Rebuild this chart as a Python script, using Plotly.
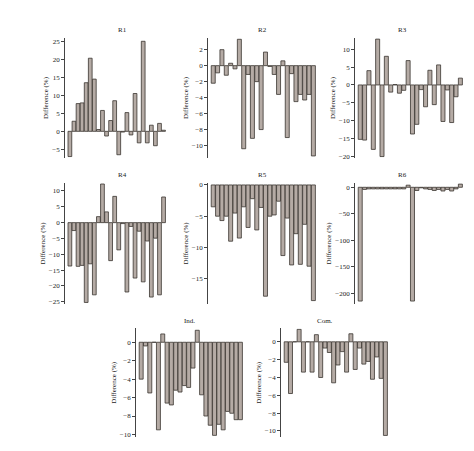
import plotly.graph_objects as go

names = ["R1", "R2", "R3", "R4", "R5", "R6", "Ind.", "Com."]
r1 = [-7, 2.8, 7.7, 7.9, 13.5, 20.3, 14.5, 0.5, 5.8, -1.3, 3, 8.5, -6.5, -0.2, 5.2, -1, 10.5, -3.2, 25, -3.2, 1.7, -4, 2.2, 0.3]
r2 = [-2.2, -0.9, 2, -1.2, 0.3, -0.4, 3.3, -10.4, -1.1, -9.1, -2, -8, 1.7, -0.1, -1.1, -3.6, 0.6, -9, -1, -4.5, -3.6, -4.3, -3.6, -11.3]
r3 = [-15.2, -15.4, 4, -18, 12.8, -20, 8, -2, 0.1, -2.3, -1.5, 6.8, -13.7, -11, -1.3, -6.1, 4.1, -5.5, 5.6, -10.2, -1.4, -10.5, -3.3, 1.9]
r4 = [-13.7, -2.5, -13.8, -13.5, -25.2, -13, -22.8, 1.9, 12.2, 3.4, -12, 8.3, -8.6, -0.3, -21.9, -1.2, -17.5, -2.7, -18.7, -5.8, -23.5, -4.9, -22.8, 8.1]
r5 = [-3.5, -5, -5.7, -5, -9, -4.5, -8.5, -3.5, -6.8, -2.2, -7.2, -3.6, -17.8, -5, -4.8, -2.6, -11.3, -5.3, -12.8, -7.8, -12.7, -6.3, -13, -18.5]
r6 = [-215, -4, -3, -3, -3, -3, -3, -3, -3, -3, -3, 4, -215, -6, -1, -3, -4, -6, -4, -7, -4, -7, -3, 6]
ind = [-4, -0.4, -5.5, 0, -9.5, 0.9, -6.6, -6.8, -5.2, -5.4, -4.7, -4.9, -2.8, 1.3, -5.7, -8, -9, -10.1, -8.9, -9.5, -7.5, -7.7, -8.4, -8.4]
com = [-2.3, -5.8, 0, 1.4, -3.4, 0, -3.4, 0.8, -4, -0.7, -1.2, -4.6, -2.6, -1.1, -3.4, 0.9, -3.1, -0.7, -2.5, -2.2, -4.2, -1.7, -4.1, -10.5]
series = [r1, r2, r3, r4, r5, r6, ind, com]
yranges = [[-7.5, 26], [-11.6, 3.5], [-20.5, 13.2], [-25.6, 12.5], [-19, 0.3], [-220, 8], [-10.3, 1.5], [-10.7, 1.5]]
dticks = [5, 2, 5, 5, 5, 50, 2, 2]

W, H = 474, 451
def px(a, b): return [a / W, b / W]
def py(top, bot): return [1 - bot / H, 1 - top / H]
xd = [px(57, 158), px(200, 308), px(347, 455), px(57, 158), px(200, 308), px(347, 455), px(128, 235), px(273, 380)]
yd = [py(28, 150)] * 3 + [py(175, 297)] * 3 + [py(322, 432)] * 2

fig = go.Figure()
font = dict(family="Liberation Serif", size=7, color="#222")
for i, s in enumerate(series):
    n = "" if i == 0 else str(i + 1)
    fig.add_trace(go.Bar(x=list(range(len(s))), y=s, xaxis="x" + n, yaxis="y" + n,
                         marker=dict(color="#b5aba5", line=dict(color="#3a3530", width=0.8)),
                         width=0.92, showlegend=False))
    fig.layout["xaxis" + n] = dict(domain=xd[i], range=[-1.2, 23.6], visible=False, anchor="y" + n)
    fig.layout["yaxis" + n] = dict(domain=yd[i], range=yranges[i], dtick=dticks[i], anchor="x" + n,
                                   showline=True, linecolor="#444", linewidth=0.8, ticks="outside",
                                   ticklen=3, tickcolor="#444", showgrid=False, zeroline=False,
                                   tickfont=font, title=dict(text="Difference (%)", font=font, standoff=2))
    fig.add_annotation(x=(xd[i][0] + xd[i][1]) / 2, y=yd[i][1] + 0.004, xref="paper", yref="paper",
                       text=names[i], showarrow=False, font=font, yanchor="bottom")

fig.update_layout(width=W, height=H, margin=dict(l=0, r=0, t=0, b=0),
                  plot_bgcolor="white", paper_bgcolor="white")
fig.write_html("out.html")
